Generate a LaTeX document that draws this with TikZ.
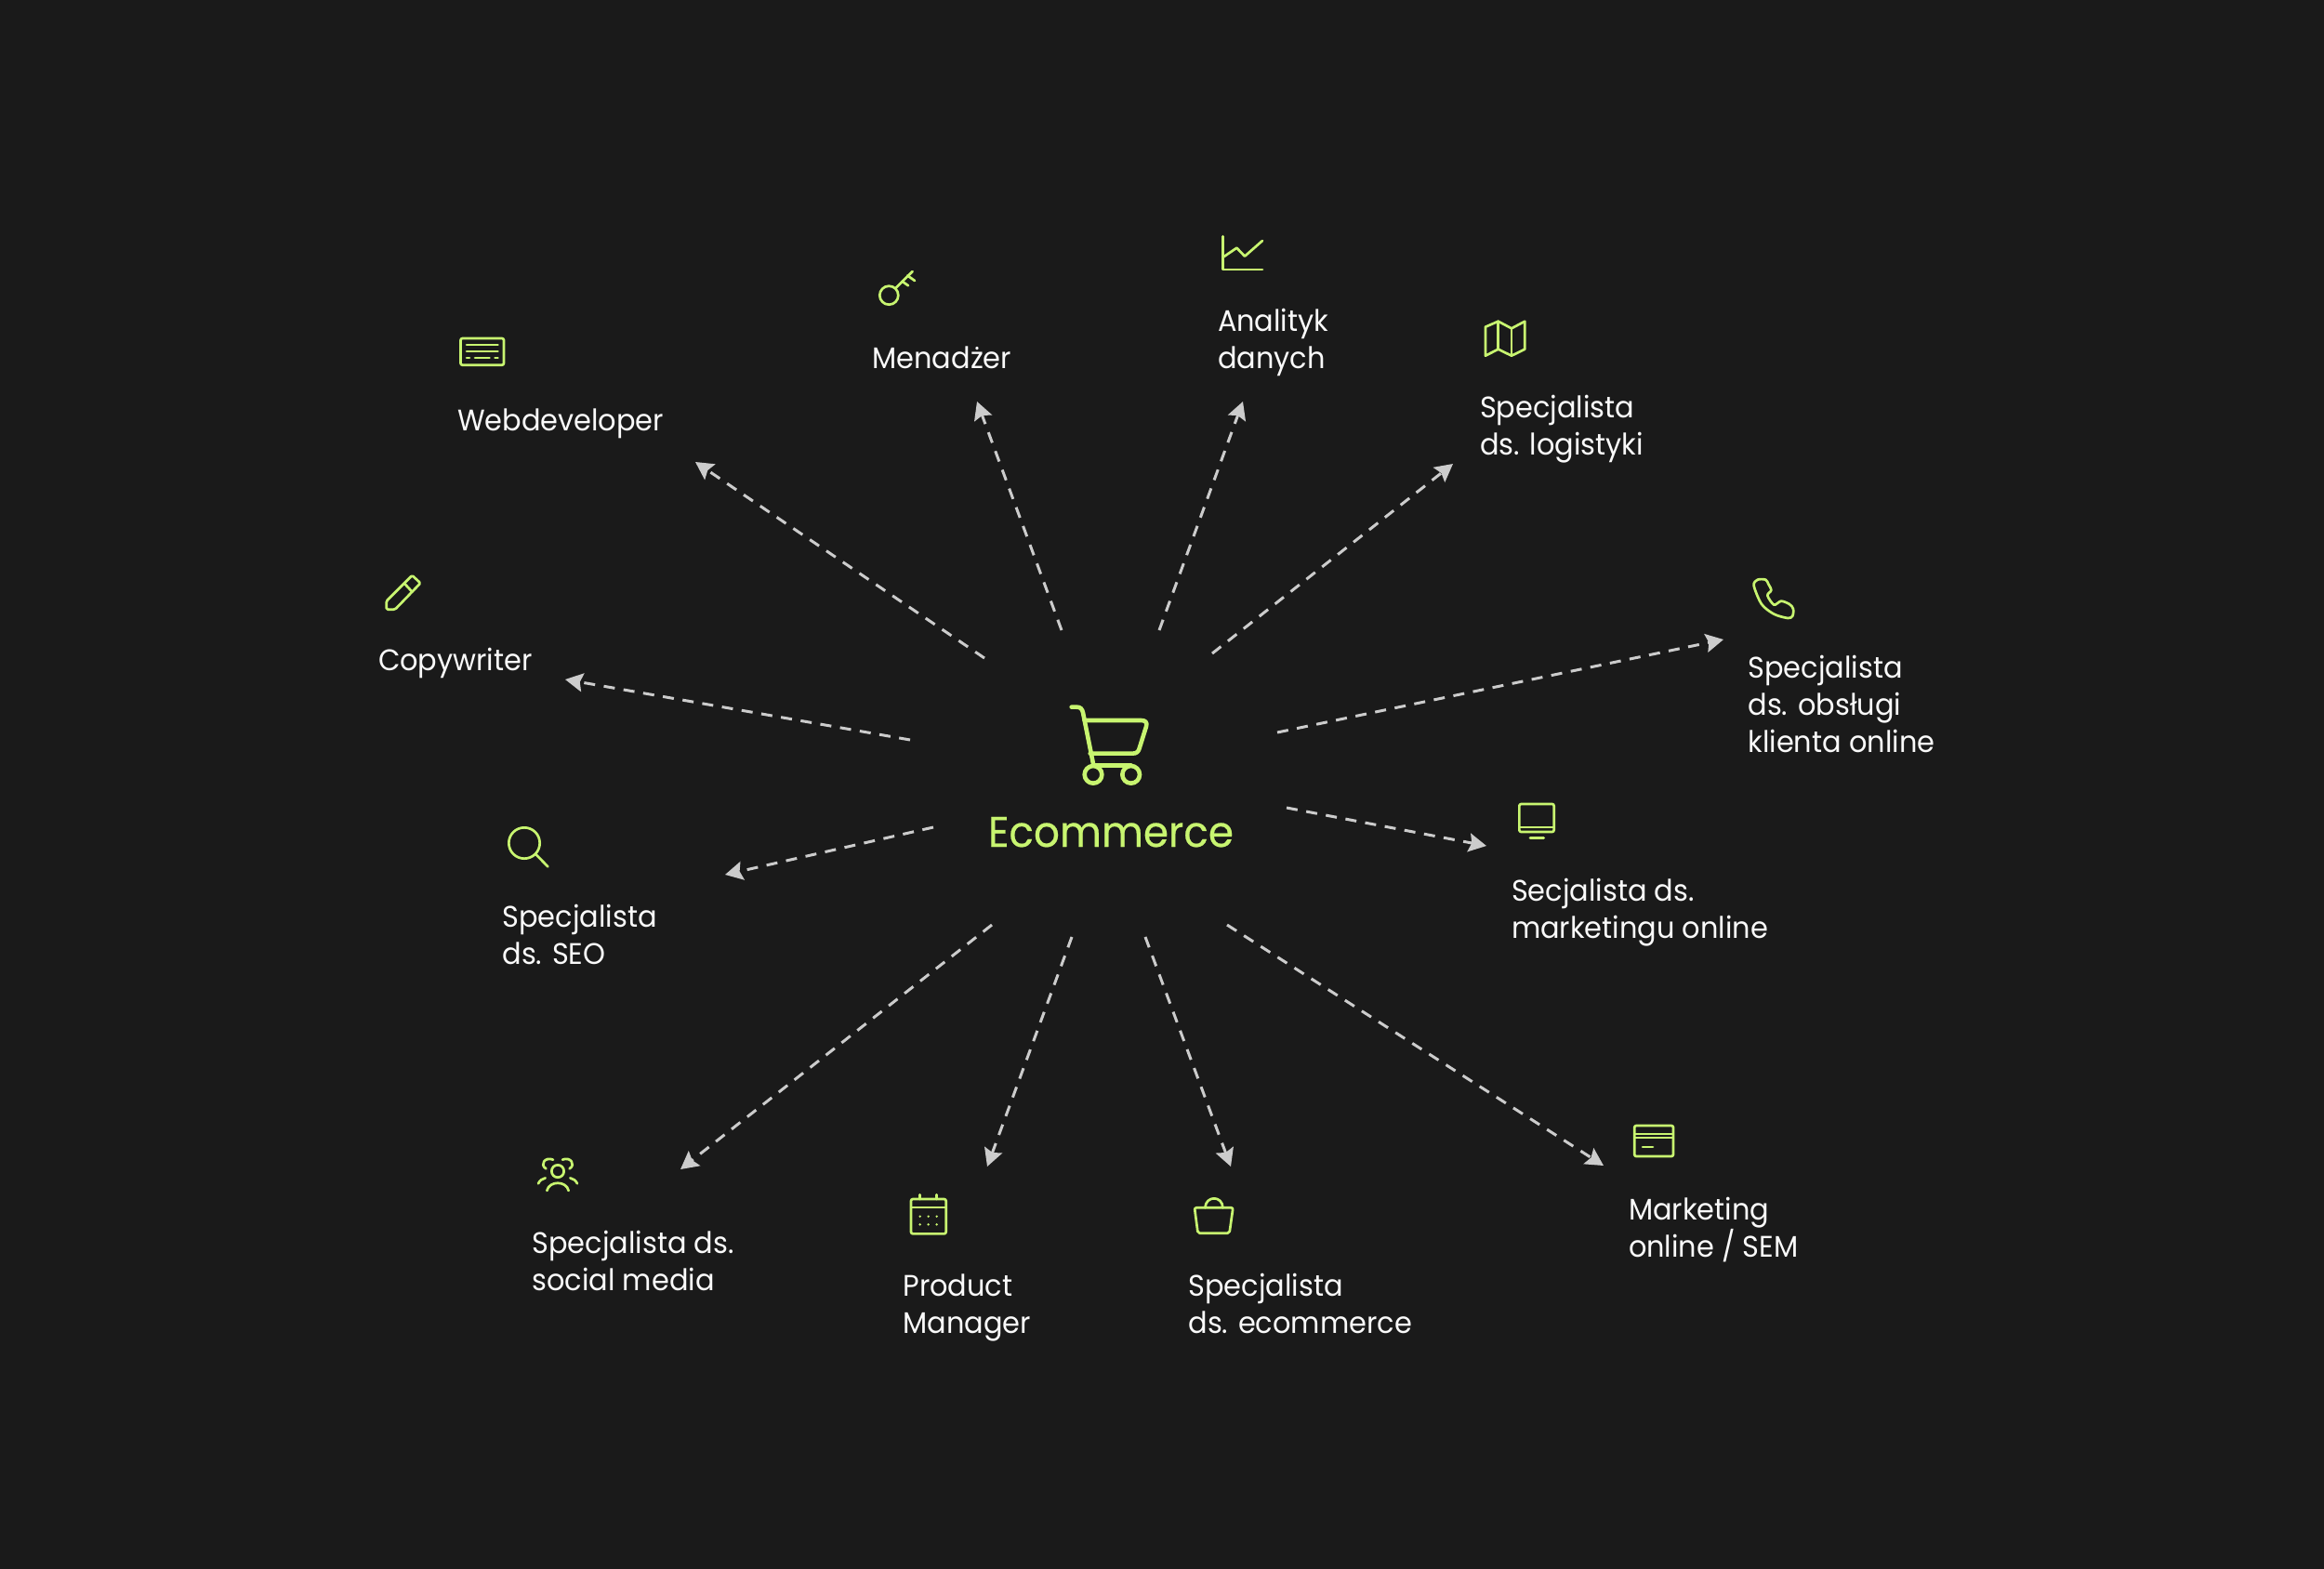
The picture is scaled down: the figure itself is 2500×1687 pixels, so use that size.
\documentclass[tikz,border=0pt]{standalone}
\usepackage{fontspec}
\setmainfont[FakeStretch=0.95]{Poppins}
\newfontfamily\medfont[FakeStretch=0.95,FakeBold=0.45]{Poppins}
\usetikzlibrary{arrows.meta}
\definecolor{bgc}{HTML}{1A1A1A}
\definecolor{accent}{HTML}{C8F570}
\definecolor{linkc}{HTML}{CCCCCC}
\definecolor{txt}{HTML}{FAFAFA}
\setlength{\lineskiplimit}{-100pt}
\tikzset{
  icon/.style={draw=accent,line width=2.7pt,line cap=round,line join=round},
  carticon/.style={draw=accent,line width=4.6pt,line cap=round,line join=round},
  link/.style={draw=linkc,line width=3pt,dash pattern=on 12pt off 9.5pt,-{Stealth[length=19pt,width=20pt,inset=3pt]}},
  lbl/.style={anchor=north west,inner sep=0pt,outer sep=0pt,align=left,text=txt,font=\fontsize{32}{40}\selectfont},
  hub/.style={anchor=base west,inner sep=0pt,outer sep=0pt,text=accent,font=\medfont\fontsize{46}{50}\selectfont},
}
\begin{document}
\begin{tikzpicture}[x=1pt,y=-1pt]
\useasboundingbox (0,0) rectangle (2500,1687);
\fill[bgc] (-5,-5) rectangle (2505,1692);

% labels: y = first baseline - 28
\node[hub] (hubt) at (1063,911) {Ecommerce};
\node[lbl] (web) at (492,435.5) {\strut Webdeveloper};
\node[lbl] (men) at (938.5,368.5) {\strut Menadżer};
\node[lbl] (ana) at (1310,328) {\strut Analityk\\danych};
\node[lbl] (log) at (1592,421.5) {\strut Specjalista\\ds. logistyki};
\node[lbl] (obs) at (1880.5,701.5) {\strut Specjalista\\ds. obsługi\\klienta online};
\node[lbl] (mkt) at (1626,941.5) {\strut Secjalista ds.\\marketingu online};
\node[lbl] (sem) at (1752,1284) {\strut Marketing\\online / SEM};
\node[lbl] (eco) at (1278.5,1366) {\strut Specjalista\\ds. ecommerce};
\node[lbl] (pro) at (971.5,1366) {\strut Product\\Manager};
\node[lbl] (soc) at (572.5,1320.5) {\strut Specjalista ds.\\social media};
\node[lbl] (seo) at (540.5,969.5) {\strut Specjalista\\ds. SEO};
\node[lbl] (cop) at (407,693) {\strut Copywriter};

% connector ends
\coordinate (s1) at (1059,708);  \coordinate (e1) at (748,497);
\coordinate (s2) at (1142,678);  \coordinate (e2) at (1051,432);
\coordinate (s3) at (1247,678);  \coordinate (e3) at (1337,432);
\coordinate (s4) at (1304,703);  \coordinate (e4) at (1563,499);
\coordinate (s5) at (1374,788);  \coordinate (e5) at (1854,688);
\coordinate (s6) at (1384,869);  \coordinate (e6) at (1599,910);
\coordinate (s7) at (1320,995);  \coordinate (e7) at (1725,1254);
\coordinate (s8) at (1232,1008); \coordinate (e8) at (1324,1255);
\coordinate (s9) at (1153,1008); \coordinate (e9) at (1062,1255);
\coordinate (s10) at (1067,995); \coordinate (e10) at (732,1258);
\coordinate (s11) at (1004,890); \coordinate (e11) at (780,941);
\coordinate (s12) at (979,796);  \coordinate (e12) at (608,731);
\foreach \i in {1,...,12} \draw[link] (s\i) -- (e\i);

% cart
\begin{scope}[shift={(1050,720)},scale=1/3]
\draw[carticon] (308,122) -- (325,122) .. controls (337,122) and (342,128) .. (345,140) -- (378,305);
\draw[carticon] (350,165) -- (533,165) .. controls (547,165) and (553,172) .. (549,185) -- (527,255) .. controls (524,266) and (518,272) .. (505,272) -- (368,272);
\draw[carticon] (378,310) -- (500,310);
\draw[carticon] (378,340) circle[radius=28];
\draw[carticon] (500,340) circle[radius=28];
\end{scope}

% web
\draw[icon,rounded corners=2pt] (495.5,364) rectangle (542,392.7);
\draw[icon] (502,371) -- (535.5,371);
\draw[icon] (502,378) -- (535.5,378);
\draw[icon] (502,385) -- (505,385);
\draw[icon] (511,385) -- (526.5,385);
\draw[icon] (532.5,385) -- (535.5,385);
% key
\draw[icon] (956.3,317.7) circle[radius=10];
\draw[icon] (963,310.5) -- (981.6,292);
\draw[icon] (976.3,296.5) -- (984,302);
\draw[icon] (970.6,302.7) -- (977,307.3);
% chart
\draw[icon] (1315.7,254.3) -- (1315.7,290) -- (1358,290);
\draw[icon] (1315.7,276.7) -- (1330.4,266.7) -- (1339,275.7) -- (1358,259);
% map
\draw[icon] (1597.9,351.7) -- (1611.7,345.7) -- (1626,353.3) -- (1640.3,345.7) -- (1640.3,375.7) -- (1626,382.7) -- (1611.7,375.7) -- (1597.9,382.7) -- cycle;
\draw[icon] (1611.7,345.7) -- (1611.7,375.7);
\draw[icon] (1626,353.3) -- (1626,382.7);
% phone
\begin{scope}[shift={(1600,600)},scale=1/3]
\draw[icon] plot[smooth cycle,tension=0.5] coordinates {(860,90) (872,71) (898,71) (907,85) (916,105) (904,122) (925,152) (948,140) (975,150) (987,165) (985,188) (970,195) (925,182) (885,150)};
% monitor
\draw[icon,rounded corners=2pt] (103,795) rectangle (215,885);
\draw[icon] (105,870) -- (213,870);
\draw[icon] (138,905) -- (182,905);
\end{scope}
% pencil, magnifier
\begin{scope}[shift={(380,600)},scale=1/3]
\draw[icon,rounded corners=1.5pt] (107,140) -- (190,57) -- (217,82) -- (135,167) -- (107,167) -- cycle;
\draw[icon] (165,83) -- (190,110);
\draw[icon] (552,921) circle[radius=50];
\draw[icon] (590,958) -- (628,997);
\end{scope}
% people, calendar
\begin{scope}[shift={(550,1220)},scale=1/3]
\draw[icon] (150,120) circle[radius=20];
\draw[icon] (115,183) .. controls (122,150) and (178,150) .. (185,183);
\draw[icon] (135,83) .. controls (110,72) and (90,98) .. (112,112);
\draw[icon] (165,83) .. controls (190,72) and (210,98) .. (188,112);
\draw[icon] (87,160) .. controls (92,150) and (100,144) .. (110,142);
\draw[icon] (213,160) .. controls (208,150) and (200,144) .. (190,142);
\draw[icon,rounded corners=2pt] (1290,210) rectangle (1403,322);
\draw[icon] (1292,237) -- (1401,237);
\draw[icon] (1319,196) -- (1319,210);
\draw[icon] (1373,196) -- (1373,210);
\foreach \x in {1319,1346,1373} \foreach \y in {266,292}
  \fill[accent] (\x,\y) circle[radius=4];
\end{scope}
% bag
\draw[icon,rounded corners=2pt] (1285,1299.3) -- (1326.4,1299.3) -- (1322.5,1326.7) -- (1288.6,1326.7) -- cycle;
\draw[icon] (1296.4,1299.3) .. controls (1297,1286) and (1315,1286) .. (1315.4,1299.3);
% card
\draw[icon,rounded corners=2pt] (1758.2,1211) rectangle (1800,1244);
\draw[icon] (1759,1220) -- (1799,1220);
\draw[icon] (1759,1224) -- (1799,1224);
\draw[icon] (1767,1234) -- (1778,1234);
\end{tikzpicture}
\end{document}
